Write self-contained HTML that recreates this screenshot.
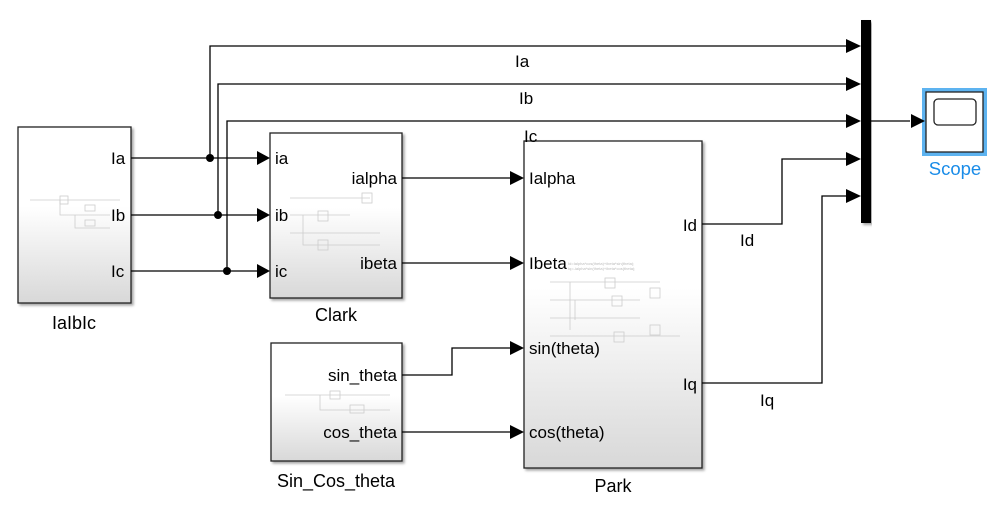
<!DOCTYPE html>
<html><head><meta charset="utf-8"><style>
html,body{margin:0;padding:0;background:#fff;}
svg{display:block;font-family:"Liberation Sans",Arial,sans-serif;}
</style></head><body>
<svg width="994" height="506" viewBox="0 0 994 506" xmlns="http://www.w3.org/2000/svg">
<defs>
<linearGradient id="g" x1="0" y1="0" x2="0" y2="1">
<stop offset="0" stop-color="#ffffff"/><stop offset="0.45" stop-color="#ffffff"/><stop offset="1" stop-color="#d8d8d8"/>
</linearGradient>
<filter id="sh" x="-5%" y="-5%" width="115%" height="115%"><feDropShadow dx="2" dy="2" stdDeviation="1.2" flood-color="#000" flood-opacity="0.35"/></filter>
</defs>
<rect x="18" y="127" width="113" height="176" fill="url(#g)" stroke="#222" stroke-width="1.3" filter="url(#sh)"/>
<rect x="270" y="133" width="132" height="165" fill="url(#g)" stroke="#222" stroke-width="1.3" filter="url(#sh)"/>
<rect x="524" y="141" width="178" height="327" fill="url(#g)" stroke="#222" stroke-width="1.3" filter="url(#sh)"/>
<rect x="271" y="343" width="131" height="118" fill="url(#g)" stroke="#222" stroke-width="1.3" filter="url(#sh)"/>
<g stroke="#ccc" fill="none" stroke-width="0.8">
<path d="M30 200 H120 M60 200 V215 H110 M75 215 V228 H110 M75 228 H110"/>
<rect x="60" y="196" width="8" height="8"/><rect x="85" y="205" width="10" height="6"/><rect x="85" y="220" width="10" height="6"/>
<path d="M290 198 H370 M290 215 H350 M290 233 H380 M303 215 V245 H380"/>
<rect x="362" y="193" width="10" height="10"/><rect x="318" y="211" width="10" height="10"/><rect x="318" y="240" width="10" height="10"/>
<path d="M550 282 H660 M550 300 H640 M550 318 H640 M550 336 H680 M570 282 V330 M575 300 V320"/>
<rect x="605" y="278" width="10" height="10"/><rect x="612" y="296" width="10" height="10"/><rect x="650" y="288" width="10" height="10"/><rect x="650" y="325" width="10" height="10"/><rect x="614" y="332" width="10" height="10"/>
<path d="M285 395 H390 M320 395 V410 H390"/>
<rect x="330" y="391" width="10" height="8"/><rect x="350" y="405" width="14" height="8"/>
</g>
<text x="568" y="265" font-size="4" fill="#bbb">Id=Ialpha*cos(theta)+ibeta*sin(theta);</text>
<text x="568" y="270" font-size="4" fill="#bbb">Iq=-ialpha*sin(theta)+ibeta*cos(theta);</text>
<rect x="861" y="20" width="10" height="203" fill="#000" filter="url(#sh)"/>
<rect x="922" y="88" width="65" height="68" fill="#5db3f0"/>
<rect x="926" y="92" width="57" height="60" fill="#fff" stroke="#222" stroke-width="1.3"/>
<rect x="934" y="99" width="42" height="26" rx="4" fill="#fff" stroke="#222" stroke-width="1.3"/>
<text x="955" y="175" font-size="18.5" fill="#1a8ce8" text-anchor="middle">Scope</text>
<g stroke="#000" stroke-width="1.3" fill="none">
<path d="M131 158 H258 M210 158 V46 H848"/>
<path d="M131 215 H258 M218 215 V84 H848"/>
<path d="M131 271 H258 M227 271 V121 H848"/>
<path d="M402 178 H512 M402 263 H512"/>
<path d="M402 375 H452 V348 H512 M402 432 H512"/>
<path d="M702 224 H782 V159 H848 M702 383 H822 V196 H848"/>
<path d="M871 121 H910"/>
</g>
<g fill="#000">
<circle cx="210" cy="158" r="4"/><circle cx="218" cy="215" r="4"/><circle cx="227" cy="271" r="4"/>
<path d="M257 151 L270 158 L257 165Z M257 208 L270 215 L257 222Z M257 264 L270 271 L257 278Z"/>
<path d="M510 171 L524 178 L510 185Z M510 256 L524 263 L510 270Z M510 341 L524 348 L510 355Z M510 425 L524 432 L510 439Z"/>
<path d="M846 39 L861 46 L846 53Z M846 77 L861 84 L846 91Z M846 114 L861 121 L846 128Z M846 152 L861 159 L846 166Z M846 189 L861 196 L846 203Z"/>
<path d="M911 114 L925 121 L911 128Z"/>
</g>
<g font-size="17" fill="#000">
<text x="111" y="164">Ia</text><text x="111" y="221">Ib</text><text x="111" y="277">Ic</text>
<text x="275" y="164">ia</text><text x="275" y="221">ib</text><text x="275" y="277">ic</text>
<text x="397" y="184" text-anchor="end">ialpha</text><text x="397" y="269" text-anchor="end">ibeta</text>
<text x="529" y="184">Ialpha</text><text x="529" y="269">Ibeta</text>
<text x="529" y="354">sin(theta)</text><text x="529" y="438">cos(theta)</text>
<text x="697" y="231" text-anchor="end">Id</text><text x="697" y="390" text-anchor="end">Iq</text>
<text x="397" y="381" text-anchor="end">sin_theta</text><text x="397" y="438" text-anchor="end">cos_theta</text>
<text x="515" y="67">Ia</text><text x="519" y="104">Ib</text><text x="524" y="142">Ic</text>
<text x="740" y="246">Id</text><text x="760" y="406">Iq</text>
</g>
<g font-size="18" fill="#000" text-anchor="middle">
<text x="74" y="329">IaIbIc</text>
<text x="336" y="321">Clark</text>
<text x="613" y="492">Park</text>
<text x="336" y="487">Sin_Cos_theta</text>
</g>
</svg>
</body></html>
